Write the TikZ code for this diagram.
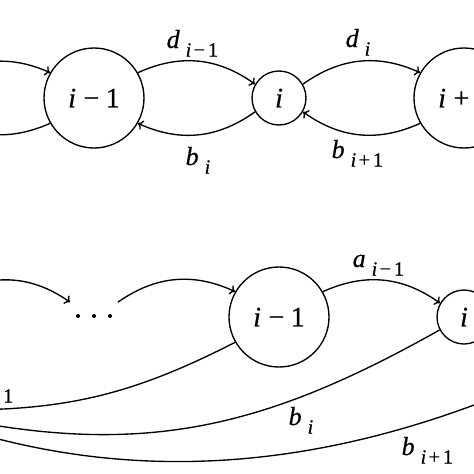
\documentclass[tikz,border=0pt]{standalone}
\usepackage{fontspec}
\setmainfont{Liberation Serif}[FakeBold=0.6]
\usetikzlibrary{arrows.meta}
\newcommand\lbl[2]{\makebox[19pt][l]{\fontsize{26pt}{26pt}\selectfont\itshape #1}\raisebox{-8.5pt}{\fontsize{20pt}{20pt}\selectfont #2}}
\newcommand\subm{\textit{i}\hspace{2.5pt}−\hspace{3pt}1}
\newcommand\subp{\textit{i}\hspace{2.5pt}+\hspace{3pt}1}
\begin{document}
\begin{tikzpicture}[x=1pt,y=-1pt,line width=1.35pt,
  nodefont/.style={font=\fontsize{28pt}{28pt}\selectfont},
  big/.style={circle,draw,minimum size=100pt,inner sep=0pt,nodefont},
  small/.style={circle,draw,minimum size=54pt,inner sep=0pt,nodefont},
  ghost/.style={circle,minimum size=54pt,inner sep=0pt,font=\fontsize{32pt}{32pt}\selectfont},
  arr/.style={-{Computer Modern Rightarrow[length=5pt,width=10pt]}},
  lab/.style={inner sep=0pt,anchor=base west}]
\useasboundingbox (0,0) rectangle (474,474);
\clip (0,0) rectangle (474,474);
% top row
\node[big] (A) at (94,98) {\textit{i}\hspace{7.5pt}−\hspace{6.5pt}1};
\node[small] (B) at (279,98) {\textit{i}};
\node[big] (C) at (464,98) {\textit{i}\hspace{7.5pt}+\hspace{6.5pt}1};
\coordinate (L1) at (-66,85);
\coordinate (L2) at (-66,111);
\draw[arr] (L1) to[bend left=30] (A.150);
\draw[arr] (A.210) to[bend left=30] (L2);
\draw[arr] (A.30) to[bend left=30] (B.150);
\draw[arr] (B.210) to[bend left=30] (A.330);
\draw[arr] (B.30) to[bend left=30] (C.150);
\draw[arr] (C.210) to[bend left=30] (B.330);
\node[lab] (ld1) at (166,48) {\lbl{d}{\subm}};
\node[lab] (lb1) at (185,165) {\lbl{b}{\textit{i}}};
\node[lab] (ld2) at (345,47) {\lbl{d}{\textit{i}}};
\node[lab] (lb2) at (331,158) {\lbl{b}{\subp}};
% bottom row
\node[ghost] (Dt) at (94,316) {.\hspace{8pt}.\hspace{8pt}.};
\node[big] (D) at (279,317) {\textit{i}\hspace{7.5pt}−\hspace{6.5pt}1};
\node[small] (E) at (464,317) {\textit{i}};
\coordinate (L3) at (-45,292);
\draw[arr] (L3) to[bend left=30] (Dt.150);
\draw[arr] (Dt.30) to[bend left=30] (D.150);
\draw[arr] (D.30) to[bend left=30] (E.150);
\coordinate (F1) at (-40,410);
\coordinate (F2) at (-60,415);
\coordinate (F3) at (-50,425);
\coordinate (R3) at (500,395);
\draw[arr] (D.210) to[out=207,in=0] (F1);
\draw[arr] (E.208) .. controls (262,430) and (140,458) .. (F2);
\draw[arr] (R3) .. controls (300,475) and (120,480) .. (F3);
\node[lab] (la1) at (352,267) {\lbl{a}{\subm}};
\node[lab] (lb3) at (288,425) {\lbl{b}{\textit{i}}};
\node[lab] (lb4) at (401,455) {\lbl{b}{\subp}};
\node[lab,anchor=base east] (lb0) at (14,394) {\lbl{b}{\subm}};
\end{tikzpicture}
\end{document}
